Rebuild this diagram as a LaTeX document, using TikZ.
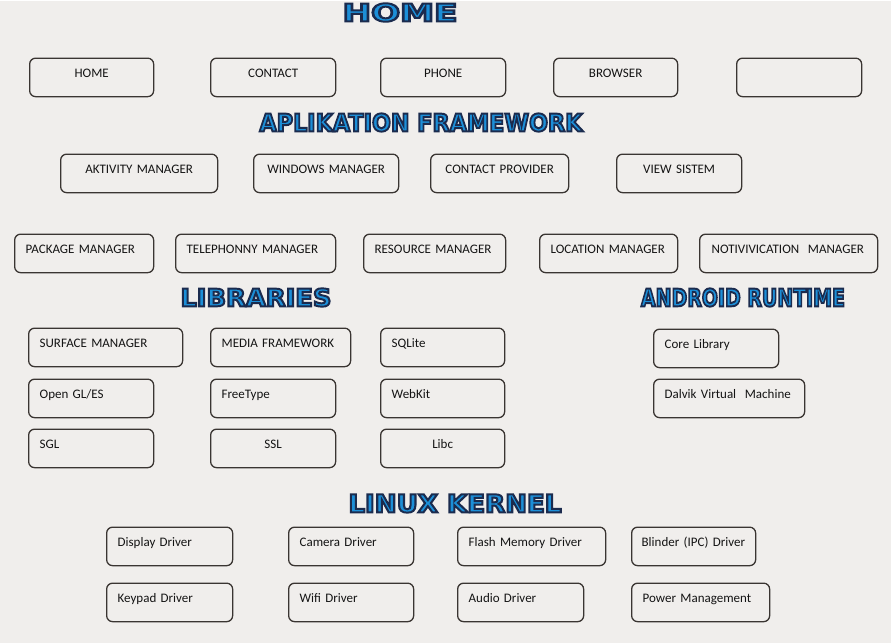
\documentclass[tikz,border=0pt]{standalone}
\usepackage{fontspec}
\setmainfont{Carlito}
\newfontfamily\judulfont{DejaVu Sans}
\usepackage{graphicx}
\definecolor{latar}{HTML}{F0EEEC}
\definecolor{garis}{HTML}{3A3532}
\definecolor{teks}{HTML}{141414}
\definecolor{biru}{HTML}{1C8FD8}
% judul: biru dengan garis tepi gelap
\newcommand{\judul}[2]{\resizebox{#1}{18pt}{\color{biru}\special{pdf:literal 2 Tr 0.8 w 0.106 0.169 0.306 RG}\judulfont\bfseries #2\special{pdf:literal 0 Tr}}}

\begin{document}
\begin{tikzpicture}[x=1pt, y=-1pt,
	kotak/.style={draw=garis, line width=1.3pt, rounded corners=6pt, anchor=north west,
		text width=#1, inner xsep=11pt, minimum height=38.5pt, text height=9pt, text depth=8pt,
		align=left, text=teks, font=\fontsize{13}{15}\selectfont},
	tengah/.style={align=center}]
			\fill[latar] (0,0) rectangle (891,642);
			% Home
			\node (tHome) at (400,12) {\judul{115pt}{HOME}};
			\node[kotak=102pt, tengah] (home) at (29,57) {HOME};
			\node[kotak=103pt, tengah] (contact) at (210,57) {CONTACT};
			\node[kotak=103pt, tengah] (phone) at (380,57) {PHONE};
			\node[kotak=102pt, tengah] (browser) at (553,57) {BROWSER};
			\node[kotak=103pt, tengah] (kosong) at (736,57) {};
			% Aplikation framework
			\node (tFramework) at (421,122) {\judul{323pt}{APLIKATION FRAMEWORK}};
			\node[kotak=135pt, tengah] (aktivity) at (60,153) {AKTIVITY MANAGER};
			\node[kotak=123pt, tengah] (windows) at (253,153) {WINDOWS MANAGER};
			\node[kotak=116pt, tengah] (provider) at (430,153) {CONTACT PROVIDER};
			\node[kotak=103pt, tengah] (view) at (616,153) {VIEW SISTEM};
			\node[kotak=117pt] (package) at (14,233) {PACKAGE MANAGER};
			\node[kotak=138pt] (telephonny) at (175,233) {TELEPHONNY MANAGER};
			\node[kotak=120pt] (resource) at (363,233) {RESOURCE MANAGER};
			\node[kotak=116pt] (location) at (539,233) {LOCATION MANAGER};
			\node[kotak=154pt, inner xsep=12pt] (notif) at (699,233) {\mbox{NOTIVIVICATION\ \ MANAGER}};
			% Libraries
			\node (tLibraries) at (256,297) {\judul{151pt}{LIBRARIES}};
			\node[kotak=132pt] (surface) at (28,327) {SURFACE MANAGER};
			\node[kotak=118pt] (media) at (210,327) {MEDIA FRAMEWORK};
			\node[kotak=102pt] (sqlite) at (380,327) {SQLite};
			\node[kotak=103pt] (opengl) at (28,378) {Open GL/ES};
			\node[kotak=103pt] (freetype) at (210,378) {FreeType};
			\node[kotak=102pt] (webkit) at (380,378) {WebKit};
			\node[kotak=103pt] (sgl) at (28,428) {SGL};
			\node[kotak=103pt, tengah] (ssl) at (210,428) {SSL};
			\node[kotak=102pt, tengah] (libc) at (380,428) {Libc};
			% Android runtime
			\node (tRuntime) at (743,297) {\judul{204pt}{ANDROID RUNTIME}};
			\node[kotak=103pt] (core) at (653,328) {Core Library};
			\node[kotak=129pt] (dalvik) at (653,378) {\mbox{Dalvik Virtual\ \ Machine}};
			% Linux kernel
			\node (tKernel) at (455,503) {\judul{213pt}{LINUX KERNEL}};
			\node[kotak=104pt] (display) at (106,526) {Display Driver};
			\node[kotak=103pt] (camera) at (288,526) {Camera Driver};
			\node[kotak=126pt] (flash) at (457,526) {Flash Memory Driver};
			\node[kotak=104pt, inner xsep=10pt] (blinder) at (631,526) {\mbox{Blinder (IPC) Driver}};
			\node[kotak=104pt] (keypad) at (106,582) {Keypad Driver};
			\node[kotak=103pt] (wifi) at (288,582) {Wifi Driver};
			\node[kotak=104pt] (audio) at (457,582) {Audio Driver};
			\node[kotak=116pt] (power) at (631,582) {Power Management};
		\end{tikzpicture}
\end{document}
